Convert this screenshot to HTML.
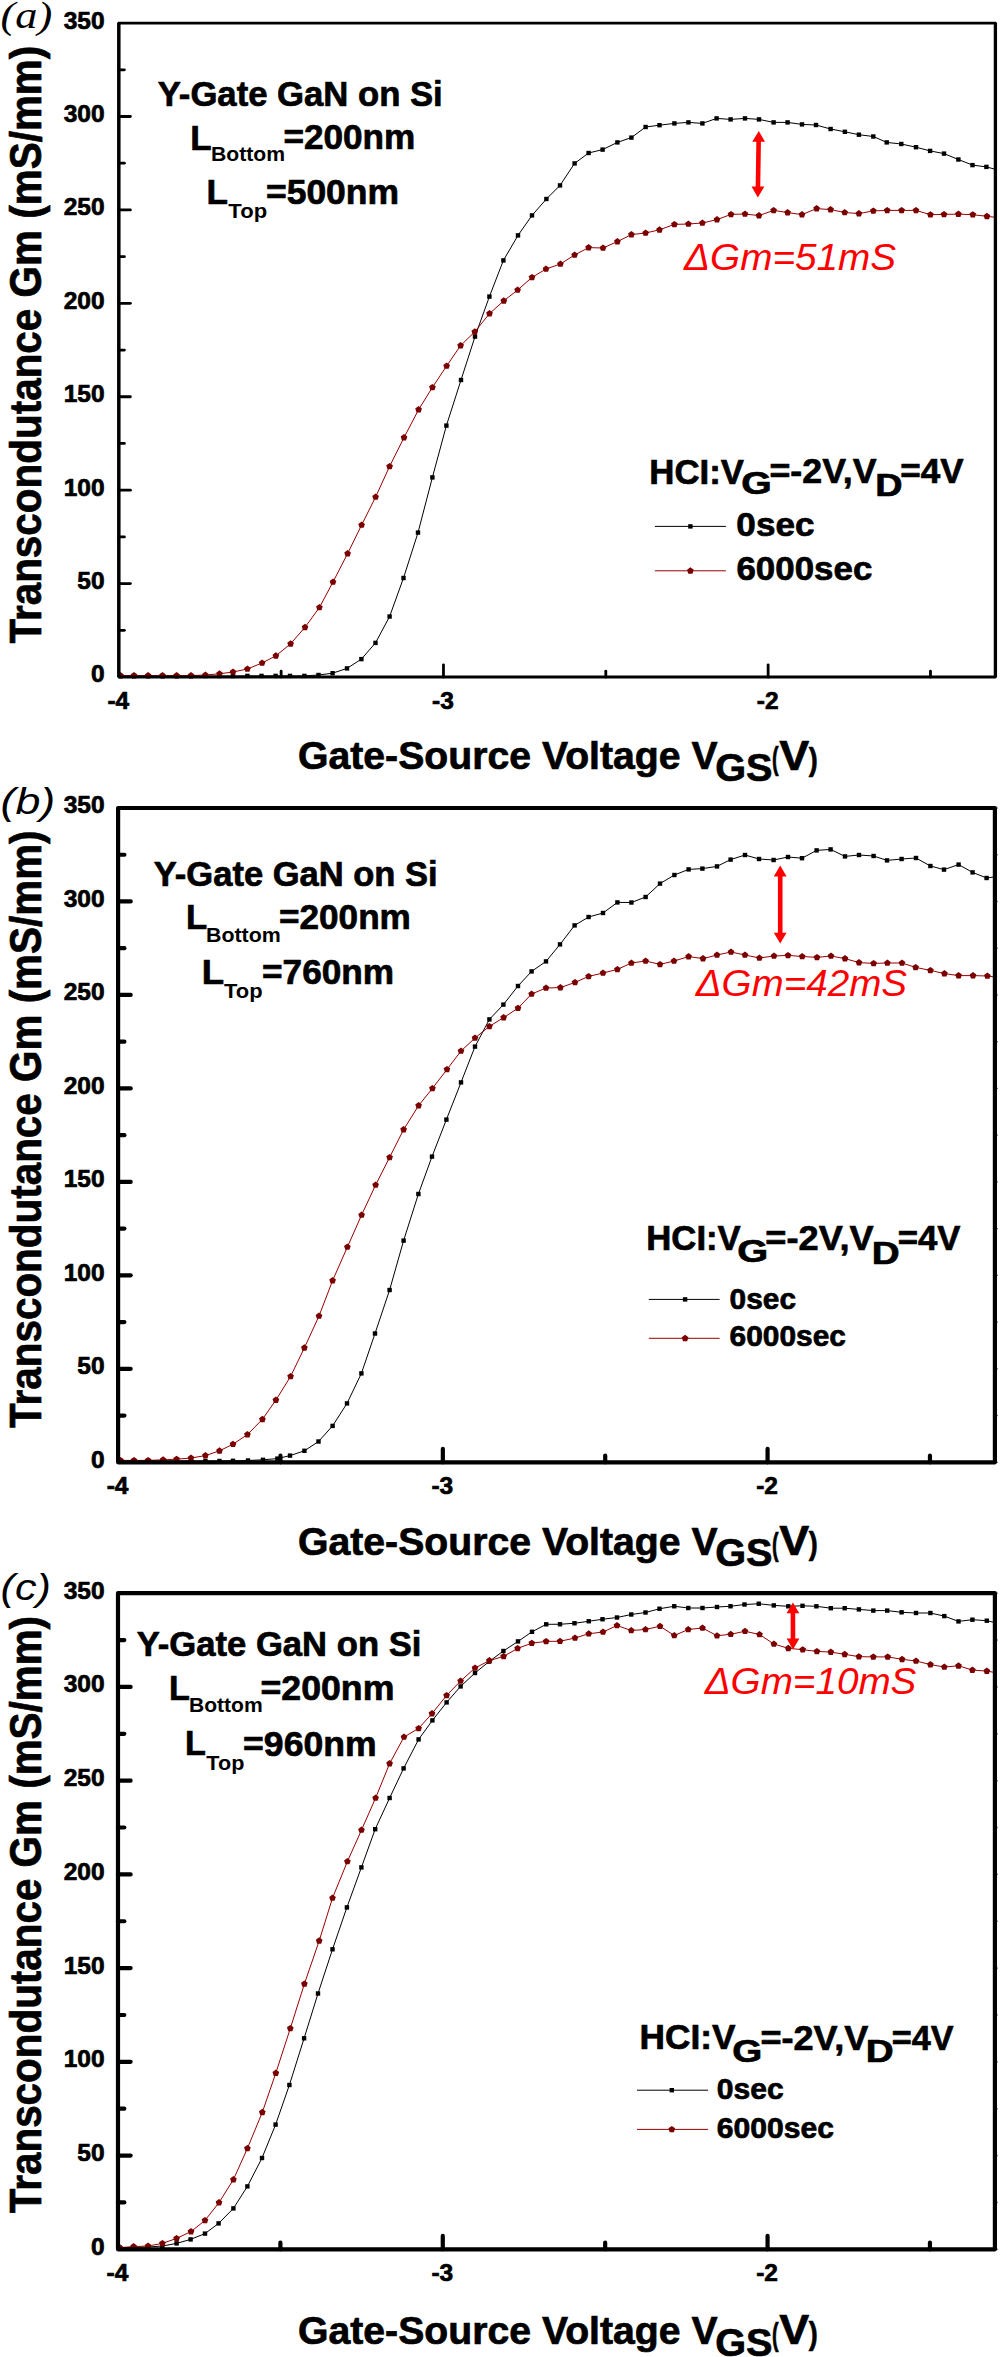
<!DOCTYPE html>
<html><head><meta charset="utf-8"><title>Transconductance HCI stress</title>
<style>html,body{margin:0;padding:0;background:#fff;}svg{display:block;}</style></head><body>
<svg width="1000" height="2357" viewBox="0 0 1000 2357">
<rect width="1000" height="2357" fill="#fff"/>
<clipPath id="clipa"><rect x="118.8" y="17.1" width="876.6" height="665.9"/></clipPath>
<g clip-path="url(#clipa)"><polyline fill="none" stroke="#000" stroke-width="1.0" stroke-linejoin="round" points="120.5,676 134,676 148.1,676 162.5,676 176.6,676 191,676 205.4,676 219.5,676 233,676 247.4,675.9 261.5,675.9 275.6,675.9 290,675.9 304.4,675.9 318.5,675 332.6,673.2 347,668.4 361.4,659.1 375.5,642.9 389.6,616.5 403.5,578 418,532.6 432.4,477.4 446.4,425.6 461,380 475,336.6 489.4,296.6 503.4,260.4 518,235.4 532,215.4 546.4,199 560,185.4 574.6,163.4 588.6,153 602.6,149.6 617.4,142.4 631.4,137.6 645.6,127 659.5,125.2 674.4,123.4 688.4,122.4 702.4,123.4 716.6,118.4 730.6,119.4 745,118.4 759,119.4 773.6,122.4 787.6,122.4 802,124.4 816,125 830.6,129 844.9,131.8 858.9,134.7 873.3,136.5 886.7,142.4 901.3,144 916,147.2 930.1,150.9 944,153.6 958.4,159.5 972.5,165.1 986.4,166.9 1000.6,170.7"/><g fill="#000"><rect x="118.3" y="673.8" width="4.4" height="4.4"/><rect x="131.8" y="673.8" width="4.4" height="4.4"/><rect x="145.9" y="673.8" width="4.4" height="4.4"/><rect x="160.3" y="673.8" width="4.4" height="4.4"/><rect x="174.4" y="673.8" width="4.4" height="4.4"/><rect x="188.8" y="673.8" width="4.4" height="4.4"/><rect x="203.2" y="673.8" width="4.4" height="4.4"/><rect x="217.3" y="673.8" width="4.4" height="4.4"/><rect x="230.8" y="673.8" width="4.4" height="4.4"/><rect x="245.2" y="673.7" width="4.4" height="4.4"/><rect x="259.3" y="673.7" width="4.4" height="4.4"/><rect x="273.4" y="673.7" width="4.4" height="4.4"/><rect x="287.8" y="673.7" width="4.4" height="4.4"/><rect x="302.2" y="673.7" width="4.4" height="4.4"/><rect x="316.3" y="672.8" width="4.4" height="4.4"/><rect x="330.4" y="671" width="4.4" height="4.4"/><rect x="344.8" y="666.2" width="4.4" height="4.4"/><rect x="359.2" y="656.9" width="4.4" height="4.4"/><rect x="373.3" y="640.7" width="4.4" height="4.4"/><rect x="387.4" y="614.3" width="4.4" height="4.4"/><rect x="401.3" y="575.8" width="4.4" height="4.4"/><rect x="415.8" y="530.4" width="4.4" height="4.4"/><rect x="430.2" y="475.2" width="4.4" height="4.4"/><rect x="444.2" y="423.4" width="4.4" height="4.4"/><rect x="458.8" y="377.8" width="4.4" height="4.4"/><rect x="472.8" y="334.4" width="4.4" height="4.4"/><rect x="487.2" y="294.4" width="4.4" height="4.4"/><rect x="501.2" y="258.2" width="4.4" height="4.4"/><rect x="515.8" y="233.2" width="4.4" height="4.4"/><rect x="529.8" y="213.2" width="4.4" height="4.4"/><rect x="544.2" y="196.8" width="4.4" height="4.4"/><rect x="557.8" y="183.2" width="4.4" height="4.4"/><rect x="572.4" y="161.2" width="4.4" height="4.4"/><rect x="586.4" y="150.8" width="4.4" height="4.4"/><rect x="600.4" y="147.4" width="4.4" height="4.4"/><rect x="615.2" y="140.2" width="4.4" height="4.4"/><rect x="629.2" y="135.4" width="4.4" height="4.4"/><rect x="643.4" y="124.8" width="4.4" height="4.4"/><rect x="657.3" y="123" width="4.4" height="4.4"/><rect x="672.2" y="121.2" width="4.4" height="4.4"/><rect x="686.2" y="120.2" width="4.4" height="4.4"/><rect x="700.2" y="121.2" width="4.4" height="4.4"/><rect x="714.4" y="116.2" width="4.4" height="4.4"/><rect x="728.4" y="117.2" width="4.4" height="4.4"/><rect x="742.8" y="116.2" width="4.4" height="4.4"/><rect x="756.8" y="117.2" width="4.4" height="4.4"/><rect x="771.4" y="120.2" width="4.4" height="4.4"/><rect x="785.4" y="120.2" width="4.4" height="4.4"/><rect x="799.8" y="122.2" width="4.4" height="4.4"/><rect x="813.8" y="122.8" width="4.4" height="4.4"/><rect x="828.4" y="126.8" width="4.4" height="4.4"/><rect x="842.7" y="129.6" width="4.4" height="4.4"/><rect x="856.7" y="132.5" width="4.4" height="4.4"/><rect x="871.1" y="134.3" width="4.4" height="4.4"/><rect x="884.5" y="140.2" width="4.4" height="4.4"/><rect x="899.1" y="141.8" width="4.4" height="4.4"/><rect x="913.8" y="145" width="4.4" height="4.4"/><rect x="927.9" y="148.7" width="4.4" height="4.4"/><rect x="941.8" y="151.4" width="4.4" height="4.4"/><rect x="956.2" y="157.3" width="4.4" height="4.4"/><rect x="970.3" y="162.9" width="4.4" height="4.4"/><rect x="984.2" y="164.7" width="4.4" height="4.4"/><rect x="998.4" y="168.5" width="4.4" height="4.4"/></g><polyline fill="none" stroke="#990000" stroke-width="1.0" stroke-linejoin="round" points="120.5,675.6 134,675.6 148.1,675.6 162.5,675.6 176.6,675.6 191,675.6 205.4,675 219.5,673.8 233,672 247.4,669 262.1,663 275.9,655.8 290.6,643.8 305,627.3 319.4,607.5 333,582 347.6,553.6 361.6,525 375.6,497 389.6,466.4 404,437.6 418.6,409.6 432.4,387.4 446.6,366 460.6,345.6 474.8,331.8 489.5,313.6 503.8,300.8 517.6,290 532,277.4 546,269 560.4,264 574.6,255 588.6,247.6 603,248 617.4,241.6 631.4,234.6 645.6,233 659.5,229.8 674.4,224.4 688.4,224 702.4,223 717,219.6 731,214.4 745,214 759,215.6 773.6,210.4 787.6,212.6 802,214.6 816.6,208.6 830.6,209.6 844.7,212.5 858.9,213.6 873.3,210.9 887.2,210.4 901.6,210.4 916,210.4 930.4,214.7 944,214.4 958.4,214.1 972.8,214.7 986.9,216.3 1001,218"/><g fill="#7a0000"><polygon points="120.5,672.1 123.83,674.52 122.56,678.43 118.44,678.43 117.17,674.52"/><polygon points="134,672.1 137.33,674.52 136.06,678.43 131.94,678.43 130.67,674.52"/><polygon points="148.1,672.1 151.43,674.52 150.16,678.43 146.04,678.43 144.77,674.52"/><polygon points="162.5,672.1 165.83,674.52 164.56,678.43 160.44,678.43 159.17,674.52"/><polygon points="176.6,672.1 179.93,674.52 178.66,678.43 174.54,678.43 173.27,674.52"/><polygon points="191,672.1 194.33,674.52 193.06,678.43 188.94,678.43 187.67,674.52"/><polygon points="205.4,671.5 208.73,673.92 207.46,677.83 203.34,677.83 202.07,673.92"/><polygon points="219.5,670.3 222.83,672.72 221.56,676.63 217.44,676.63 216.17,672.72"/><polygon points="233,668.5 236.33,670.92 235.06,674.83 230.94,674.83 229.67,670.92"/><polygon points="247.4,665.5 250.73,667.92 249.46,671.83 245.34,671.83 244.07,667.92"/><polygon points="262.1,659.5 265.43,661.92 264.16,665.83 260.04,665.83 258.77,661.92"/><polygon points="275.9,652.3 279.23,654.72 277.96,658.63 273.84,658.63 272.57,654.72"/><polygon points="290.6,640.3 293.93,642.72 292.66,646.63 288.54,646.63 287.27,642.72"/><polygon points="305,623.8 308.33,626.22 307.06,630.13 302.94,630.13 301.67,626.22"/><polygon points="319.4,604 322.73,606.42 321.46,610.33 317.34,610.33 316.07,606.42"/><polygon points="333,578.5 336.33,580.92 335.06,584.83 330.94,584.83 329.67,580.92"/><polygon points="347.6,550.1 350.93,552.52 349.66,556.43 345.54,556.43 344.27,552.52"/><polygon points="361.6,521.5 364.93,523.92 363.66,527.83 359.54,527.83 358.27,523.92"/><polygon points="375.6,493.5 378.93,495.92 377.66,499.83 373.54,499.83 372.27,495.92"/><polygon points="389.6,462.9 392.93,465.32 391.66,469.23 387.54,469.23 386.27,465.32"/><polygon points="404,434.1 407.33,436.52 406.06,440.43 401.94,440.43 400.67,436.52"/><polygon points="418.6,406.1 421.93,408.52 420.66,412.43 416.54,412.43 415.27,408.52"/><polygon points="432.4,383.9 435.73,386.32 434.46,390.23 430.34,390.23 429.07,386.32"/><polygon points="446.6,362.5 449.93,364.92 448.66,368.83 444.54,368.83 443.27,364.92"/><polygon points="460.6,342.1 463.93,344.52 462.66,348.43 458.54,348.43 457.27,344.52"/><polygon points="474.8,328.3 478.13,330.72 476.86,334.63 472.74,334.63 471.47,330.72"/><polygon points="489.5,310.1 492.83,312.52 491.56,316.43 487.44,316.43 486.17,312.52"/><polygon points="503.8,297.3 507.13,299.72 505.86,303.63 501.74,303.63 500.47,299.72"/><polygon points="517.6,286.5 520.93,288.92 519.66,292.83 515.54,292.83 514.27,288.92"/><polygon points="532,273.9 535.33,276.32 534.06,280.23 529.94,280.23 528.67,276.32"/><polygon points="546,265.5 549.33,267.92 548.06,271.83 543.94,271.83 542.67,267.92"/><polygon points="560.4,260.5 563.73,262.92 562.46,266.83 558.34,266.83 557.07,262.92"/><polygon points="574.6,251.5 577.93,253.92 576.66,257.83 572.54,257.83 571.27,253.92"/><polygon points="588.6,244.1 591.93,246.52 590.66,250.43 586.54,250.43 585.27,246.52"/><polygon points="603,244.5 606.33,246.92 605.06,250.83 600.94,250.83 599.67,246.92"/><polygon points="617.4,238.1 620.73,240.52 619.46,244.43 615.34,244.43 614.07,240.52"/><polygon points="631.4,231.1 634.73,233.52 633.46,237.43 629.34,237.43 628.07,233.52"/><polygon points="645.6,229.5 648.93,231.92 647.66,235.83 643.54,235.83 642.27,231.92"/><polygon points="659.5,226.3 662.83,228.72 661.56,232.63 657.44,232.63 656.17,228.72"/><polygon points="674.4,220.9 677.73,223.32 676.46,227.23 672.34,227.23 671.07,223.32"/><polygon points="688.4,220.5 691.73,222.92 690.46,226.83 686.34,226.83 685.07,222.92"/><polygon points="702.4,219.5 705.73,221.92 704.46,225.83 700.34,225.83 699.07,221.92"/><polygon points="717,216.1 720.33,218.52 719.06,222.43 714.94,222.43 713.67,218.52"/><polygon points="731,210.9 734.33,213.32 733.06,217.23 728.94,217.23 727.67,213.32"/><polygon points="745,210.5 748.33,212.92 747.06,216.83 742.94,216.83 741.67,212.92"/><polygon points="759,212.1 762.33,214.52 761.06,218.43 756.94,218.43 755.67,214.52"/><polygon points="773.6,206.9 776.93,209.32 775.66,213.23 771.54,213.23 770.27,209.32"/><polygon points="787.6,209.1 790.93,211.52 789.66,215.43 785.54,215.43 784.27,211.52"/><polygon points="802,211.1 805.33,213.52 804.06,217.43 799.94,217.43 798.67,213.52"/><polygon points="816.6,205.1 819.93,207.52 818.66,211.43 814.54,211.43 813.27,207.52"/><polygon points="830.6,206.1 833.93,208.52 832.66,212.43 828.54,212.43 827.27,208.52"/><polygon points="844.7,209 848.03,211.42 846.76,215.33 842.64,215.33 841.37,211.42"/><polygon points="858.9,210.1 862.23,212.52 860.96,216.43 856.84,216.43 855.57,212.52"/><polygon points="873.3,207.4 876.63,209.82 875.36,213.73 871.24,213.73 869.97,209.82"/><polygon points="887.2,206.9 890.53,209.32 889.26,213.23 885.14,213.23 883.87,209.32"/><polygon points="901.6,206.9 904.93,209.32 903.66,213.23 899.54,213.23 898.27,209.32"/><polygon points="916,206.9 919.33,209.32 918.06,213.23 913.94,213.23 912.67,209.32"/><polygon points="930.4,211.2 933.73,213.62 932.46,217.53 928.34,217.53 927.07,213.62"/><polygon points="944,210.9 947.33,213.32 946.06,217.23 941.94,217.23 940.67,213.32"/><polygon points="958.4,210.6 961.73,213.02 960.46,216.93 956.34,216.93 955.07,213.02"/><polygon points="972.8,211.2 976.13,213.62 974.86,217.53 970.74,217.53 969.47,213.62"/><polygon points="986.9,212.8 990.23,215.22 988.96,219.13 984.84,219.13 983.57,215.22"/><polygon points="1001,214.5 1004.33,216.92 1003.06,220.83 998.94,220.83 997.67,216.92"/></g></g>
<g stroke="#000" stroke-width="2.8" stroke-linecap="round"><line x1="118.8" y1="630.29" x2="124.4" y2="630.29"/><line x1="118.8" y1="583.59" x2="130.4" y2="583.59"/><line x1="118.8" y1="536.88" x2="124.4" y2="536.88"/><line x1="118.8" y1="490.17" x2="130.4" y2="490.17"/><line x1="118.8" y1="443.46" x2="124.4" y2="443.46"/><line x1="118.8" y1="396.76" x2="130.4" y2="396.76"/><line x1="118.8" y1="350.05" x2="124.4" y2="350.05"/><line x1="118.8" y1="303.34" x2="130.4" y2="303.34"/><line x1="118.8" y1="256.64" x2="124.4" y2="256.64"/><line x1="118.8" y1="209.93" x2="130.4" y2="209.93"/><line x1="118.8" y1="163.22" x2="124.4" y2="163.22"/><line x1="118.8" y1="116.51" x2="130.4" y2="116.51"/><line x1="118.8" y1="69.81" x2="124.4" y2="69.81"/><line x1="281.13" y1="677" x2="281.13" y2="671.2"/><line x1="443.47" y1="677" x2="443.47" y2="664.8"/><line x1="605.8" y1="677" x2="605.8" y2="671.2"/><line x1="768.13" y1="677" x2="768.13" y2="664.8"/><line x1="930.47" y1="677" x2="930.47" y2="671.2"/></g>
<rect x="118.8" y="23.1" width="876.6" height="653.9" fill="none" stroke="#000" stroke-width="2.8" stroke-linejoin="round"/>
<g stroke="#000" stroke-width="3.3"><line x1="118.8" y1="23.1" x2="118.8" y2="677"/><line x1="995.4" y1="23.1" x2="995.4" y2="677"/></g>
<g font-family="'Liberation Sans', Arial, sans-serif" font-size="24.5" font-weight="bold" fill="#000" stroke="#000" stroke-width="0.7" stroke-linejoin="round"><text x="104.6" y="682.4" text-anchor="end">0</text><text x="104.6" y="588.99" text-anchor="end">50</text><text x="104.6" y="495.57" text-anchor="end">100</text><text x="104.6" y="402.16" text-anchor="end">150</text><text x="104.6" y="308.74" text-anchor="end">200</text><text x="104.6" y="215.33" text-anchor="end">250</text><text x="104.6" y="121.91" text-anchor="end">300</text><text x="104.6" y="28.5" text-anchor="end">350</text><text x="118.3" y="708.5" text-anchor="middle">-4</text><text x="442.97" y="708.5" text-anchor="middle">-3</text><text x="767.63" y="708.5" text-anchor="middle">-2</text></g>
<polygon fill="#ff0000" points="758.8,131 765.04,141.8 760.94,141.8 760.26,186.6 764.36,186.6 757.8,197.4 751.56,186.6 755.66,186.6 756.34,141.8 752.24,141.8"/>
<line x1="654.9" y1="526.4" x2="725.9" y2="526.4" stroke="#000" stroke-width="1.0"/>
<rect x="688.2" y="524.2" width="4.4" height="4.4" fill="#000"/>
<line x1="654.9" y1="570.8" x2="725.9" y2="570.8" stroke="#990000" stroke-width="1.0"/>
<polygon points="690.4,567.3 693.73,569.72 692.46,573.63 688.34,573.63 687.07,569.72" fill="#7a0000"/>
<clipPath id="clipb"><rect x="118.1" y="802" width="876.8" height="666.3"/></clipPath>
<g clip-path="url(#clipb)"><polyline fill="none" stroke="#000" stroke-width="1.0" stroke-linejoin="round" points="120.5,1461 134,1461 148.1,1461 162.5,1461 176.6,1461 191,1461 205.4,1461 219.5,1461 233,1460.8 248,1460.5 263,1459.8 277.4,1458.6 290,1455.6 304.4,1450.8 318.5,1441.5 332.6,1425.9 347,1403.4 361.4,1373.4 375,1333.5 389.6,1290 403.6,1240.6 418.4,1194 432,1156.6 446.4,1119.6 461,1082.4 475,1046.6 489.4,1019.4 503.4,1004.6 518,986 531.6,971.4 546,961.4 560,944.4 574.6,925.4 588.6,917 603,913 617.4,902.4 631.4,902.5 645.6,897 660,883.6 674.4,875 688.6,869.4 702.4,868.6 717,866.4 730.6,859.6 745,855 759,859 773.6,860 788,857 802,858.2 816.6,850.4 830.6,849.4 845,856.4 859,855 873.6,856 887,860.4 901.6,859 916,858 930.4,866 944,869.6 958.6,864.6 972.6,872.4 986.6,878 1000.8,876"/><g fill="#000"><rect x="118.3" y="1458.8" width="4.4" height="4.4"/><rect x="131.8" y="1458.8" width="4.4" height="4.4"/><rect x="145.9" y="1458.8" width="4.4" height="4.4"/><rect x="160.3" y="1458.8" width="4.4" height="4.4"/><rect x="174.4" y="1458.8" width="4.4" height="4.4"/><rect x="188.8" y="1458.8" width="4.4" height="4.4"/><rect x="203.2" y="1458.8" width="4.4" height="4.4"/><rect x="217.3" y="1458.8" width="4.4" height="4.4"/><rect x="230.8" y="1458.6" width="4.4" height="4.4"/><rect x="245.8" y="1458.3" width="4.4" height="4.4"/><rect x="260.8" y="1457.6" width="4.4" height="4.4"/><rect x="275.2" y="1456.4" width="4.4" height="4.4"/><rect x="287.8" y="1453.4" width="4.4" height="4.4"/><rect x="302.2" y="1448.6" width="4.4" height="4.4"/><rect x="316.3" y="1439.3" width="4.4" height="4.4"/><rect x="330.4" y="1423.7" width="4.4" height="4.4"/><rect x="344.8" y="1401.2" width="4.4" height="4.4"/><rect x="359.2" y="1371.2" width="4.4" height="4.4"/><rect x="372.8" y="1331.3" width="4.4" height="4.4"/><rect x="387.4" y="1287.8" width="4.4" height="4.4"/><rect x="401.4" y="1238.4" width="4.4" height="4.4"/><rect x="416.2" y="1191.8" width="4.4" height="4.4"/><rect x="429.8" y="1154.4" width="4.4" height="4.4"/><rect x="444.2" y="1117.4" width="4.4" height="4.4"/><rect x="458.8" y="1080.2" width="4.4" height="4.4"/><rect x="472.8" y="1044.4" width="4.4" height="4.4"/><rect x="487.2" y="1017.2" width="4.4" height="4.4"/><rect x="501.2" y="1002.4" width="4.4" height="4.4"/><rect x="515.8" y="983.8" width="4.4" height="4.4"/><rect x="529.4" y="969.2" width="4.4" height="4.4"/><rect x="543.8" y="959.2" width="4.4" height="4.4"/><rect x="557.8" y="942.2" width="4.4" height="4.4"/><rect x="572.4" y="923.2" width="4.4" height="4.4"/><rect x="586.4" y="914.8" width="4.4" height="4.4"/><rect x="600.8" y="910.8" width="4.4" height="4.4"/><rect x="615.2" y="900.2" width="4.4" height="4.4"/><rect x="629.2" y="900.3" width="4.4" height="4.4"/><rect x="643.4" y="894.8" width="4.4" height="4.4"/><rect x="657.8" y="881.4" width="4.4" height="4.4"/><rect x="672.2" y="872.8" width="4.4" height="4.4"/><rect x="686.4" y="867.2" width="4.4" height="4.4"/><rect x="700.2" y="866.4" width="4.4" height="4.4"/><rect x="714.8" y="864.2" width="4.4" height="4.4"/><rect x="728.4" y="857.4" width="4.4" height="4.4"/><rect x="742.8" y="852.8" width="4.4" height="4.4"/><rect x="756.8" y="856.8" width="4.4" height="4.4"/><rect x="771.4" y="857.8" width="4.4" height="4.4"/><rect x="785.8" y="854.8" width="4.4" height="4.4"/><rect x="799.8" y="856" width="4.4" height="4.4"/><rect x="814.4" y="848.2" width="4.4" height="4.4"/><rect x="828.4" y="847.2" width="4.4" height="4.4"/><rect x="842.8" y="854.2" width="4.4" height="4.4"/><rect x="856.8" y="852.8" width="4.4" height="4.4"/><rect x="871.4" y="853.8" width="4.4" height="4.4"/><rect x="884.8" y="858.2" width="4.4" height="4.4"/><rect x="899.4" y="856.8" width="4.4" height="4.4"/><rect x="913.8" y="855.8" width="4.4" height="4.4"/><rect x="928.2" y="863.8" width="4.4" height="4.4"/><rect x="941.8" y="867.4" width="4.4" height="4.4"/><rect x="956.4" y="862.4" width="4.4" height="4.4"/><rect x="970.4" y="870.2" width="4.4" height="4.4"/><rect x="984.4" y="875.8" width="4.4" height="4.4"/><rect x="998.6" y="873.8" width="4.4" height="4.4"/></g><polyline fill="none" stroke="#990000" stroke-width="1.0" stroke-linejoin="round" points="120.5,1460.4 134,1460.4 148.1,1460.4 163.1,1459.8 176.6,1459.2 191,1458 205.4,1455.6 219.5,1450.8 233,1444.2 247.4,1434.6 262.4,1419.3 275.9,1400.1 290.6,1376.4 304.4,1347.8 319,1316 332.6,1280.6 347.4,1247 361.6,1215 375.6,1185 389.6,1157.4 403.6,1129.6 418.6,1105.6 432.4,1088.4 447,1069.4 461,1051 475,1038 489.4,1026.4 503.6,1017.6 518,1008.2 531.6,994 546,988 560.4,987.6 575,982.4 588.6,976.4 603,973 617.4,969.4 631.4,963 645.6,961 660,964.4 674,961 688.6,956.6 703,958.6 717,955 731,952 745,955 759.4,958 774,956 788,955.4 802.2,956.5 817,957.4 831,956 845,958.6 859,962.6 873.6,963.4 887.4,963 902,963 915.6,967.4 930.4,970.4 944.4,973.6 958.6,975.6 973,975.6 987.4,976 1001.5,978"/><g fill="#7a0000"><polygon points="120.5,1456.9 123.83,1459.32 122.56,1463.23 118.44,1463.23 117.17,1459.32"/><polygon points="134,1456.9 137.33,1459.32 136.06,1463.23 131.94,1463.23 130.67,1459.32"/><polygon points="148.1,1456.9 151.43,1459.32 150.16,1463.23 146.04,1463.23 144.77,1459.32"/><polygon points="163.1,1456.3 166.43,1458.72 165.16,1462.63 161.04,1462.63 159.77,1458.72"/><polygon points="176.6,1455.7 179.93,1458.12 178.66,1462.03 174.54,1462.03 173.27,1458.12"/><polygon points="191,1454.5 194.33,1456.92 193.06,1460.83 188.94,1460.83 187.67,1456.92"/><polygon points="205.4,1452.1 208.73,1454.52 207.46,1458.43 203.34,1458.43 202.07,1454.52"/><polygon points="219.5,1447.3 222.83,1449.72 221.56,1453.63 217.44,1453.63 216.17,1449.72"/><polygon points="233,1440.7 236.33,1443.12 235.06,1447.03 230.94,1447.03 229.67,1443.12"/><polygon points="247.4,1431.1 250.73,1433.52 249.46,1437.43 245.34,1437.43 244.07,1433.52"/><polygon points="262.4,1415.8 265.73,1418.22 264.46,1422.13 260.34,1422.13 259.07,1418.22"/><polygon points="275.9,1396.6 279.23,1399.02 277.96,1402.93 273.84,1402.93 272.57,1399.02"/><polygon points="290.6,1372.9 293.93,1375.32 292.66,1379.23 288.54,1379.23 287.27,1375.32"/><polygon points="304.4,1344.3 307.73,1346.72 306.46,1350.63 302.34,1350.63 301.07,1346.72"/><polygon points="319,1312.5 322.33,1314.92 321.06,1318.83 316.94,1318.83 315.67,1314.92"/><polygon points="332.6,1277.1 335.93,1279.52 334.66,1283.43 330.54,1283.43 329.27,1279.52"/><polygon points="347.4,1243.5 350.73,1245.92 349.46,1249.83 345.34,1249.83 344.07,1245.92"/><polygon points="361.6,1211.5 364.93,1213.92 363.66,1217.83 359.54,1217.83 358.27,1213.92"/><polygon points="375.6,1181.5 378.93,1183.92 377.66,1187.83 373.54,1187.83 372.27,1183.92"/><polygon points="389.6,1153.9 392.93,1156.32 391.66,1160.23 387.54,1160.23 386.27,1156.32"/><polygon points="403.6,1126.1 406.93,1128.52 405.66,1132.43 401.54,1132.43 400.27,1128.52"/><polygon points="418.6,1102.1 421.93,1104.52 420.66,1108.43 416.54,1108.43 415.27,1104.52"/><polygon points="432.4,1084.9 435.73,1087.32 434.46,1091.23 430.34,1091.23 429.07,1087.32"/><polygon points="447,1065.9 450.33,1068.32 449.06,1072.23 444.94,1072.23 443.67,1068.32"/><polygon points="461,1047.5 464.33,1049.92 463.06,1053.83 458.94,1053.83 457.67,1049.92"/><polygon points="475,1034.5 478.33,1036.92 477.06,1040.83 472.94,1040.83 471.67,1036.92"/><polygon points="489.4,1022.9 492.73,1025.32 491.46,1029.23 487.34,1029.23 486.07,1025.32"/><polygon points="503.6,1014.1 506.93,1016.52 505.66,1020.43 501.54,1020.43 500.27,1016.52"/><polygon points="518,1004.7 521.33,1007.12 520.06,1011.03 515.94,1011.03 514.67,1007.12"/><polygon points="531.6,990.5 534.93,992.92 533.66,996.83 529.54,996.83 528.27,992.92"/><polygon points="546,984.5 549.33,986.92 548.06,990.83 543.94,990.83 542.67,986.92"/><polygon points="560.4,984.1 563.73,986.52 562.46,990.43 558.34,990.43 557.07,986.52"/><polygon points="575,978.9 578.33,981.32 577.06,985.23 572.94,985.23 571.67,981.32"/><polygon points="588.6,972.9 591.93,975.32 590.66,979.23 586.54,979.23 585.27,975.32"/><polygon points="603,969.5 606.33,971.92 605.06,975.83 600.94,975.83 599.67,971.92"/><polygon points="617.4,965.9 620.73,968.32 619.46,972.23 615.34,972.23 614.07,968.32"/><polygon points="631.4,959.5 634.73,961.92 633.46,965.83 629.34,965.83 628.07,961.92"/><polygon points="645.6,957.5 648.93,959.92 647.66,963.83 643.54,963.83 642.27,959.92"/><polygon points="660,960.9 663.33,963.32 662.06,967.23 657.94,967.23 656.67,963.32"/><polygon points="674,957.5 677.33,959.92 676.06,963.83 671.94,963.83 670.67,959.92"/><polygon points="688.6,953.1 691.93,955.52 690.66,959.43 686.54,959.43 685.27,955.52"/><polygon points="703,955.1 706.33,957.52 705.06,961.43 700.94,961.43 699.67,957.52"/><polygon points="717,951.5 720.33,953.92 719.06,957.83 714.94,957.83 713.67,953.92"/><polygon points="731,948.5 734.33,950.92 733.06,954.83 728.94,954.83 727.67,950.92"/><polygon points="745,951.5 748.33,953.92 747.06,957.83 742.94,957.83 741.67,953.92"/><polygon points="759.4,954.5 762.73,956.92 761.46,960.83 757.34,960.83 756.07,956.92"/><polygon points="774,952.5 777.33,954.92 776.06,958.83 771.94,958.83 770.67,954.92"/><polygon points="788,951.9 791.33,954.32 790.06,958.23 785.94,958.23 784.67,954.32"/><polygon points="802.2,953 805.53,955.42 804.26,959.33 800.14,959.33 798.87,955.42"/><polygon points="817,953.9 820.33,956.32 819.06,960.23 814.94,960.23 813.67,956.32"/><polygon points="831,952.5 834.33,954.92 833.06,958.83 828.94,958.83 827.67,954.92"/><polygon points="845,955.1 848.33,957.52 847.06,961.43 842.94,961.43 841.67,957.52"/><polygon points="859,959.1 862.33,961.52 861.06,965.43 856.94,965.43 855.67,961.52"/><polygon points="873.6,959.9 876.93,962.32 875.66,966.23 871.54,966.23 870.27,962.32"/><polygon points="887.4,959.5 890.73,961.92 889.46,965.83 885.34,965.83 884.07,961.92"/><polygon points="902,959.5 905.33,961.92 904.06,965.83 899.94,965.83 898.67,961.92"/><polygon points="915.6,963.9 918.93,966.32 917.66,970.23 913.54,970.23 912.27,966.32"/><polygon points="930.4,966.9 933.73,969.32 932.46,973.23 928.34,973.23 927.07,969.32"/><polygon points="944.4,970.1 947.73,972.52 946.46,976.43 942.34,976.43 941.07,972.52"/><polygon points="958.6,972.1 961.93,974.52 960.66,978.43 956.54,978.43 955.27,974.52"/><polygon points="973,972.1 976.33,974.52 975.06,978.43 970.94,978.43 969.67,974.52"/><polygon points="987.4,972.5 990.73,974.92 989.46,978.83 985.34,978.83 984.07,974.92"/><polygon points="1001.5,974.5 1004.83,976.92 1003.56,980.83 999.44,980.83 998.17,976.92"/></g></g>
<g stroke="#000" stroke-width="4.2" stroke-linecap="round"><line x1="994.9" y1="1462.3" x2="997.5" y2="1462.3" stroke-width="1.3" stroke-linecap="butt"/><line x1="118.1" y1="1415.56" x2="124.4" y2="1415.56"/><line x1="994.9" y1="1415.56" x2="997.5" y2="1415.56" stroke-width="1.3" stroke-linecap="butt"/><line x1="118.1" y1="1368.83" x2="130.7" y2="1368.83"/><line x1="994.9" y1="1368.83" x2="997.5" y2="1368.83" stroke-width="1.3" stroke-linecap="butt"/><line x1="118.1" y1="1322.09" x2="124.4" y2="1322.09"/><line x1="994.9" y1="1322.09" x2="997.5" y2="1322.09" stroke-width="1.3" stroke-linecap="butt"/><line x1="118.1" y1="1275.36" x2="130.7" y2="1275.36"/><line x1="994.9" y1="1275.36" x2="997.5" y2="1275.36" stroke-width="1.3" stroke-linecap="butt"/><line x1="118.1" y1="1228.62" x2="124.4" y2="1228.62"/><line x1="994.9" y1="1228.62" x2="997.5" y2="1228.62" stroke-width="1.3" stroke-linecap="butt"/><line x1="118.1" y1="1181.89" x2="130.7" y2="1181.89"/><line x1="994.9" y1="1181.89" x2="997.5" y2="1181.89" stroke-width="1.3" stroke-linecap="butt"/><line x1="118.1" y1="1135.15" x2="124.4" y2="1135.15"/><line x1="994.9" y1="1135.15" x2="997.5" y2="1135.15" stroke-width="1.3" stroke-linecap="butt"/><line x1="118.1" y1="1088.41" x2="130.7" y2="1088.41"/><line x1="994.9" y1="1088.41" x2="997.5" y2="1088.41" stroke-width="1.3" stroke-linecap="butt"/><line x1="118.1" y1="1041.68" x2="124.4" y2="1041.68"/><line x1="994.9" y1="1041.68" x2="997.5" y2="1041.68" stroke-width="1.3" stroke-linecap="butt"/><line x1="118.1" y1="994.94" x2="130.7" y2="994.94"/><line x1="994.9" y1="994.94" x2="997.5" y2="994.94" stroke-width="1.3" stroke-linecap="butt"/><line x1="118.1" y1="948.21" x2="124.4" y2="948.21"/><line x1="994.9" y1="948.21" x2="997.5" y2="948.21" stroke-width="1.3" stroke-linecap="butt"/><line x1="118.1" y1="901.47" x2="130.7" y2="901.47"/><line x1="994.9" y1="901.47" x2="997.5" y2="901.47" stroke-width="1.3" stroke-linecap="butt"/><line x1="118.1" y1="854.74" x2="124.4" y2="854.74"/><line x1="994.9" y1="854.74" x2="997.5" y2="854.74" stroke-width="1.3" stroke-linecap="butt"/><line x1="994.9" y1="808" x2="997.5" y2="808" stroke-width="1.3" stroke-linecap="butt"/><line x1="280.47" y1="1462.3" x2="280.47" y2="1455.7"/><line x1="442.84" y1="1462.3" x2="442.84" y2="1448.9"/><line x1="605.21" y1="1462.3" x2="605.21" y2="1455.7"/><line x1="767.58" y1="1462.3" x2="767.58" y2="1448.9"/><line x1="929.95" y1="1462.3" x2="929.95" y2="1455.7"/></g>
<rect x="118.1" y="808" width="876.8" height="654.3" fill="none" stroke="#000" stroke-width="4.2" stroke-linejoin="round"/>
<g font-family="'Liberation Sans', Arial, sans-serif" font-size="24.5" font-weight="bold" fill="#000" stroke="#000" stroke-width="0.7" stroke-linejoin="round"><text x="104.6" y="1467.7" text-anchor="end">0</text><text x="104.6" y="1374.23" text-anchor="end">50</text><text x="104.6" y="1280.76" text-anchor="end">100</text><text x="104.6" y="1187.29" text-anchor="end">150</text><text x="104.6" y="1093.81" text-anchor="end">200</text><text x="104.6" y="1000.34" text-anchor="end">250</text><text x="104.6" y="906.87" text-anchor="end">300</text><text x="104.6" y="813.4" text-anchor="end">350</text><text x="117.6" y="1493.8" text-anchor="middle">-4</text><text x="442.34" y="1493.8" text-anchor="middle">-3</text><text x="767.08" y="1493.8" text-anchor="middle">-2</text></g>
<polygon fill="#ff0000" points="780.2,865.6 786.6,876.4 782.5,876.4 782.5,932.8 786.6,932.8 780.2,943.6 773.8,932.8 777.9,932.8 777.9,876.4 773.8,876.4"/>
<line x1="648.8" y1="1299.4" x2="719.6" y2="1299.4" stroke="#000" stroke-width="1.0"/>
<rect x="682.9" y="1297.2" width="4.4" height="4.4" fill="#000"/>
<line x1="648.8" y1="1338.3" x2="719.6" y2="1338.3" stroke="#990000" stroke-width="1.0"/>
<polygon points="685.1,1334.8 688.43,1337.22 687.16,1341.13 683.04,1341.13 681.77,1337.22" fill="#7a0000"/>
<clipPath id="clipc"><rect x="118" y="1587.2" width="876.9" height="668.1"/></clipPath>
<g clip-path="url(#clipc)"><polyline fill="none" stroke="#000" stroke-width="1.0" stroke-linejoin="round" points="119.6,2247.5 133.6,2247.5 148,2247 162.4,2246 176.6,2243.4 190.6,2239.4 205,2233.6 218.6,2223.4 233.4,2208.4 247.4,2186.4 262,2158 275.6,2124.6 289.4,2085 304.1,2038.3 318,1993.5 332.5,1949.3 346.9,1907.4 361.4,1867.4 375.2,1829.2 389.6,1798 403.6,1768.4 418.6,1739.4 432.4,1720.4 446.6,1702.4 460.6,1686.4 475,1673 489,1661.6 503.4,1651 518,1641.4 532,1631.8 546.2,1624.3 560,1624.25 574.5,1623.25 588.75,1621.25 602.5,1619.25 617,1617.5 631.25,1614.5 645.5,1612.5 659.5,1608.75 674.25,1606.25 688.25,1608 702.5,1608 717,1607 730.5,1606.25 744.5,1604.5 758.75,1603.75 773.8,1605.4 788.3,1606.3 802.5,1605.8 816.4,1606.3 830.8,1608.2 844.7,1608.2 858.9,1609.4 873.3,1610.6 887.2,1610.6 901.6,1612.3 916,1613 930.4,1613 944.3,1616.1 958.5,1621.4 972.4,1619.7 986.8,1620.7 1001,1624"/><g fill="#000"><rect x="117.4" y="2245.3" width="4.4" height="4.4"/><rect x="131.4" y="2245.3" width="4.4" height="4.4"/><rect x="145.8" y="2244.8" width="4.4" height="4.4"/><rect x="160.2" y="2243.8" width="4.4" height="4.4"/><rect x="174.4" y="2241.2" width="4.4" height="4.4"/><rect x="188.4" y="2237.2" width="4.4" height="4.4"/><rect x="202.8" y="2231.4" width="4.4" height="4.4"/><rect x="216.4" y="2221.2" width="4.4" height="4.4"/><rect x="231.2" y="2206.2" width="4.4" height="4.4"/><rect x="245.2" y="2184.2" width="4.4" height="4.4"/><rect x="259.8" y="2155.8" width="4.4" height="4.4"/><rect x="273.4" y="2122.4" width="4.4" height="4.4"/><rect x="287.2" y="2082.8" width="4.4" height="4.4"/><rect x="301.9" y="2036.1" width="4.4" height="4.4"/><rect x="315.8" y="1991.3" width="4.4" height="4.4"/><rect x="330.3" y="1947.1" width="4.4" height="4.4"/><rect x="344.7" y="1905.2" width="4.4" height="4.4"/><rect x="359.2" y="1865.2" width="4.4" height="4.4"/><rect x="373" y="1827" width="4.4" height="4.4"/><rect x="387.4" y="1795.8" width="4.4" height="4.4"/><rect x="401.4" y="1766.2" width="4.4" height="4.4"/><rect x="416.4" y="1737.2" width="4.4" height="4.4"/><rect x="430.2" y="1718.2" width="4.4" height="4.4"/><rect x="444.4" y="1700.2" width="4.4" height="4.4"/><rect x="458.4" y="1684.2" width="4.4" height="4.4"/><rect x="472.8" y="1670.8" width="4.4" height="4.4"/><rect x="486.8" y="1659.4" width="4.4" height="4.4"/><rect x="501.2" y="1648.8" width="4.4" height="4.4"/><rect x="515.8" y="1639.2" width="4.4" height="4.4"/><rect x="529.8" y="1629.6" width="4.4" height="4.4"/><rect x="544" y="1622.1" width="4.4" height="4.4"/><rect x="557.8" y="1622.05" width="4.4" height="4.4"/><rect x="572.3" y="1621.05" width="4.4" height="4.4"/><rect x="586.55" y="1619.05" width="4.4" height="4.4"/><rect x="600.3" y="1617.05" width="4.4" height="4.4"/><rect x="614.8" y="1615.3" width="4.4" height="4.4"/><rect x="629.05" y="1612.3" width="4.4" height="4.4"/><rect x="643.3" y="1610.3" width="4.4" height="4.4"/><rect x="657.3" y="1606.55" width="4.4" height="4.4"/><rect x="672.05" y="1604.05" width="4.4" height="4.4"/><rect x="686.05" y="1605.8" width="4.4" height="4.4"/><rect x="700.3" y="1605.8" width="4.4" height="4.4"/><rect x="714.8" y="1604.8" width="4.4" height="4.4"/><rect x="728.3" y="1604.05" width="4.4" height="4.4"/><rect x="742.3" y="1602.3" width="4.4" height="4.4"/><rect x="756.55" y="1601.55" width="4.4" height="4.4"/><rect x="771.6" y="1603.2" width="4.4" height="4.4"/><rect x="786.1" y="1604.1" width="4.4" height="4.4"/><rect x="800.3" y="1603.6" width="4.4" height="4.4"/><rect x="814.2" y="1604.1" width="4.4" height="4.4"/><rect x="828.6" y="1606" width="4.4" height="4.4"/><rect x="842.5" y="1606" width="4.4" height="4.4"/><rect x="856.7" y="1607.2" width="4.4" height="4.4"/><rect x="871.1" y="1608.4" width="4.4" height="4.4"/><rect x="885" y="1608.4" width="4.4" height="4.4"/><rect x="899.4" y="1610.1" width="4.4" height="4.4"/><rect x="913.8" y="1610.8" width="4.4" height="4.4"/><rect x="928.2" y="1610.8" width="4.4" height="4.4"/><rect x="942.1" y="1613.9" width="4.4" height="4.4"/><rect x="956.3" y="1619.2" width="4.4" height="4.4"/><rect x="970.2" y="1617.5" width="4.4" height="4.4"/><rect x="984.6" y="1618.5" width="4.4" height="4.4"/><rect x="998.8" y="1621.8" width="4.4" height="4.4"/></g><polyline fill="none" stroke="#990000" stroke-width="1.0" stroke-linejoin="round" points="119.6,2247.6 133.6,2246.6 148,2246 162.4,2243.4 176.6,2238.4 191,2231.6 205,2220.4 219,2202.6 233.4,2179.6 247.4,2148.4 262.3,2112.3 275.8,2073.1 290.3,2028.4 304.4,1983.9 319.2,1940.8 332.5,1898 347.4,1861.5 361.5,1830 375.6,1798 389.6,1763.6 404,1737 418.6,1728.4 432,1713.6 446.6,1695.4 460.6,1681 475,1668 489.4,1660.6 503.6,1656.4 517.6,1648.4 531.8,1643.2 546.1,1641.4 560,1641.25 575,1638 588.75,1633.75 603,1632 617,1625.5 631.25,1630.5 645.5,1629.5 660,1626.25 674.25,1635.5 688.25,1629.5 702.5,1628 717,1635.75 730.75,1634.25 745,1631.25 759.5,1634.5 773.9,1644 788.3,1648.3 802.7,1649.7 816.9,1651.4 830.8,1652.1 844.7,1654.3 858.9,1656.7 873.3,1656.9 887.7,1656.9 902.1,1659.3 916,1661 930.4,1664.6 944.3,1667 958.5,1665.8 972.4,1670.1 986.8,1671.1 1001,1673.5"/><g fill="#7a0000"><polygon points="119.6,2244.1 122.93,2246.52 121.66,2250.43 117.54,2250.43 116.27,2246.52"/><polygon points="133.6,2243.1 136.93,2245.52 135.66,2249.43 131.54,2249.43 130.27,2245.52"/><polygon points="148,2242.5 151.33,2244.92 150.06,2248.83 145.94,2248.83 144.67,2244.92"/><polygon points="162.4,2239.9 165.73,2242.32 164.46,2246.23 160.34,2246.23 159.07,2242.32"/><polygon points="176.6,2234.9 179.93,2237.32 178.66,2241.23 174.54,2241.23 173.27,2237.32"/><polygon points="191,2228.1 194.33,2230.52 193.06,2234.43 188.94,2234.43 187.67,2230.52"/><polygon points="205,2216.9 208.33,2219.32 207.06,2223.23 202.94,2223.23 201.67,2219.32"/><polygon points="219,2199.1 222.33,2201.52 221.06,2205.43 216.94,2205.43 215.67,2201.52"/><polygon points="233.4,2176.1 236.73,2178.52 235.46,2182.43 231.34,2182.43 230.07,2178.52"/><polygon points="247.4,2144.9 250.73,2147.32 249.46,2151.23 245.34,2151.23 244.07,2147.32"/><polygon points="262.3,2108.8 265.63,2111.22 264.36,2115.13 260.24,2115.13 258.97,2111.22"/><polygon points="275.8,2069.6 279.13,2072.02 277.86,2075.93 273.74,2075.93 272.47,2072.02"/><polygon points="290.3,2024.9 293.63,2027.32 292.36,2031.23 288.24,2031.23 286.97,2027.32"/><polygon points="304.4,1980.4 307.73,1982.82 306.46,1986.73 302.34,1986.73 301.07,1982.82"/><polygon points="319.2,1937.3 322.53,1939.72 321.26,1943.63 317.14,1943.63 315.87,1939.72"/><polygon points="332.5,1894.5 335.83,1896.92 334.56,1900.83 330.44,1900.83 329.17,1896.92"/><polygon points="347.4,1858 350.73,1860.42 349.46,1864.33 345.34,1864.33 344.07,1860.42"/><polygon points="361.5,1826.5 364.83,1828.92 363.56,1832.83 359.44,1832.83 358.17,1828.92"/><polygon points="375.6,1794.5 378.93,1796.92 377.66,1800.83 373.54,1800.83 372.27,1796.92"/><polygon points="389.6,1760.1 392.93,1762.52 391.66,1766.43 387.54,1766.43 386.27,1762.52"/><polygon points="404,1733.5 407.33,1735.92 406.06,1739.83 401.94,1739.83 400.67,1735.92"/><polygon points="418.6,1724.9 421.93,1727.32 420.66,1731.23 416.54,1731.23 415.27,1727.32"/><polygon points="432,1710.1 435.33,1712.52 434.06,1716.43 429.94,1716.43 428.67,1712.52"/><polygon points="446.6,1691.9 449.93,1694.32 448.66,1698.23 444.54,1698.23 443.27,1694.32"/><polygon points="460.6,1677.5 463.93,1679.92 462.66,1683.83 458.54,1683.83 457.27,1679.92"/><polygon points="475,1664.5 478.33,1666.92 477.06,1670.83 472.94,1670.83 471.67,1666.92"/><polygon points="489.4,1657.1 492.73,1659.52 491.46,1663.43 487.34,1663.43 486.07,1659.52"/><polygon points="503.6,1652.9 506.93,1655.32 505.66,1659.23 501.54,1659.23 500.27,1655.32"/><polygon points="517.6,1644.9 520.93,1647.32 519.66,1651.23 515.54,1651.23 514.27,1647.32"/><polygon points="531.8,1639.7 535.13,1642.12 533.86,1646.03 529.74,1646.03 528.47,1642.12"/><polygon points="546.1,1637.9 549.43,1640.32 548.16,1644.23 544.04,1644.23 542.77,1640.32"/><polygon points="560,1637.75 563.33,1640.17 562.06,1644.08 557.94,1644.08 556.67,1640.17"/><polygon points="575,1634.5 578.33,1636.92 577.06,1640.83 572.94,1640.83 571.67,1636.92"/><polygon points="588.75,1630.25 592.08,1632.67 590.81,1636.58 586.69,1636.58 585.42,1632.67"/><polygon points="603,1628.5 606.33,1630.92 605.06,1634.83 600.94,1634.83 599.67,1630.92"/><polygon points="617,1622 620.33,1624.42 619.06,1628.33 614.94,1628.33 613.67,1624.42"/><polygon points="631.25,1627 634.58,1629.42 633.31,1633.33 629.19,1633.33 627.92,1629.42"/><polygon points="645.5,1626 648.83,1628.42 647.56,1632.33 643.44,1632.33 642.17,1628.42"/><polygon points="660,1622.75 663.33,1625.17 662.06,1629.08 657.94,1629.08 656.67,1625.17"/><polygon points="674.25,1632 677.58,1634.42 676.31,1638.33 672.19,1638.33 670.92,1634.42"/><polygon points="688.25,1626 691.58,1628.42 690.31,1632.33 686.19,1632.33 684.92,1628.42"/><polygon points="702.5,1624.5 705.83,1626.92 704.56,1630.83 700.44,1630.83 699.17,1626.92"/><polygon points="717,1632.25 720.33,1634.67 719.06,1638.58 714.94,1638.58 713.67,1634.67"/><polygon points="730.75,1630.75 734.08,1633.17 732.81,1637.08 728.69,1637.08 727.42,1633.17"/><polygon points="745,1627.75 748.33,1630.17 747.06,1634.08 742.94,1634.08 741.67,1630.17"/><polygon points="759.5,1631 762.83,1633.42 761.56,1637.33 757.44,1637.33 756.17,1633.42"/><polygon points="773.9,1640.5 777.23,1642.92 775.96,1646.83 771.84,1646.83 770.57,1642.92"/><polygon points="788.3,1644.8 791.63,1647.22 790.36,1651.13 786.24,1651.13 784.97,1647.22"/><polygon points="802.7,1646.2 806.03,1648.62 804.76,1652.53 800.64,1652.53 799.37,1648.62"/><polygon points="816.9,1647.9 820.23,1650.32 818.96,1654.23 814.84,1654.23 813.57,1650.32"/><polygon points="830.8,1648.6 834.13,1651.02 832.86,1654.93 828.74,1654.93 827.47,1651.02"/><polygon points="844.7,1650.8 848.03,1653.22 846.76,1657.13 842.64,1657.13 841.37,1653.22"/><polygon points="858.9,1653.2 862.23,1655.62 860.96,1659.53 856.84,1659.53 855.57,1655.62"/><polygon points="873.3,1653.4 876.63,1655.82 875.36,1659.73 871.24,1659.73 869.97,1655.82"/><polygon points="887.7,1653.4 891.03,1655.82 889.76,1659.73 885.64,1659.73 884.37,1655.82"/><polygon points="902.1,1655.8 905.43,1658.22 904.16,1662.13 900.04,1662.13 898.77,1658.22"/><polygon points="916,1657.5 919.33,1659.92 918.06,1663.83 913.94,1663.83 912.67,1659.92"/><polygon points="930.4,1661.1 933.73,1663.52 932.46,1667.43 928.34,1667.43 927.07,1663.52"/><polygon points="944.3,1663.5 947.63,1665.92 946.36,1669.83 942.24,1669.83 940.97,1665.92"/><polygon points="958.5,1662.3 961.83,1664.72 960.56,1668.63 956.44,1668.63 955.17,1664.72"/><polygon points="972.4,1666.6 975.73,1669.02 974.46,1672.93 970.34,1672.93 969.07,1669.02"/><polygon points="986.8,1667.6 990.13,1670.02 988.86,1673.93 984.74,1673.93 983.47,1670.02"/><polygon points="1001,1670 1004.33,1672.42 1003.06,1676.33 998.94,1676.33 997.67,1672.42"/></g></g>
<g stroke="#000" stroke-width="4.2" stroke-linecap="round"><line x1="994.9" y1="2249.3" x2="997.5" y2="2249.3" stroke-width="1.3" stroke-linecap="butt"/><line x1="118" y1="2202.44" x2="124.3" y2="2202.44"/><line x1="994.9" y1="2202.44" x2="997.5" y2="2202.44" stroke-width="1.3" stroke-linecap="butt"/><line x1="118" y1="2155.57" x2="130.6" y2="2155.57"/><line x1="994.9" y1="2155.57" x2="997.5" y2="2155.57" stroke-width="1.3" stroke-linecap="butt"/><line x1="118" y1="2108.71" x2="124.3" y2="2108.71"/><line x1="994.9" y1="2108.71" x2="997.5" y2="2108.71" stroke-width="1.3" stroke-linecap="butt"/><line x1="118" y1="2061.84" x2="130.6" y2="2061.84"/><line x1="994.9" y1="2061.84" x2="997.5" y2="2061.84" stroke-width="1.3" stroke-linecap="butt"/><line x1="118" y1="2014.98" x2="124.3" y2="2014.98"/><line x1="994.9" y1="2014.98" x2="997.5" y2="2014.98" stroke-width="1.3" stroke-linecap="butt"/><line x1="118" y1="1968.11" x2="130.6" y2="1968.11"/><line x1="994.9" y1="1968.11" x2="997.5" y2="1968.11" stroke-width="1.3" stroke-linecap="butt"/><line x1="118" y1="1921.25" x2="124.3" y2="1921.25"/><line x1="994.9" y1="1921.25" x2="997.5" y2="1921.25" stroke-width="1.3" stroke-linecap="butt"/><line x1="118" y1="1874.39" x2="130.6" y2="1874.39"/><line x1="994.9" y1="1874.39" x2="997.5" y2="1874.39" stroke-width="1.3" stroke-linecap="butt"/><line x1="118" y1="1827.52" x2="124.3" y2="1827.52"/><line x1="994.9" y1="1827.52" x2="997.5" y2="1827.52" stroke-width="1.3" stroke-linecap="butt"/><line x1="118" y1="1780.66" x2="130.6" y2="1780.66"/><line x1="994.9" y1="1780.66" x2="997.5" y2="1780.66" stroke-width="1.3" stroke-linecap="butt"/><line x1="118" y1="1733.79" x2="124.3" y2="1733.79"/><line x1="994.9" y1="1733.79" x2="997.5" y2="1733.79" stroke-width="1.3" stroke-linecap="butt"/><line x1="118" y1="1686.93" x2="130.6" y2="1686.93"/><line x1="994.9" y1="1686.93" x2="997.5" y2="1686.93" stroke-width="1.3" stroke-linecap="butt"/><line x1="118" y1="1640.06" x2="124.3" y2="1640.06"/><line x1="994.9" y1="1640.06" x2="997.5" y2="1640.06" stroke-width="1.3" stroke-linecap="butt"/><line x1="994.9" y1="1593.2" x2="997.5" y2="1593.2" stroke-width="1.3" stroke-linecap="butt"/><line x1="280.39" y1="2249.3" x2="280.39" y2="2242.7"/><line x1="442.78" y1="2249.3" x2="442.78" y2="2235.9"/><line x1="605.17" y1="2249.3" x2="605.17" y2="2242.7"/><line x1="767.56" y1="2249.3" x2="767.56" y2="2235.9"/><line x1="929.94" y1="2249.3" x2="929.94" y2="2242.7"/></g>
<rect x="118" y="1593.2" width="876.9" height="656.1" fill="none" stroke="#000" stroke-width="4.2" stroke-linejoin="round"/>
<g font-family="'Liberation Sans', Arial, sans-serif" font-size="24.5" font-weight="bold" fill="#000" stroke="#000" stroke-width="0.7" stroke-linejoin="round"><text x="104.6" y="2254.7" text-anchor="end">0</text><text x="104.6" y="2160.97" text-anchor="end">50</text><text x="104.6" y="2067.24" text-anchor="end">100</text><text x="104.6" y="1973.51" text-anchor="end">150</text><text x="104.6" y="1879.79" text-anchor="end">200</text><text x="104.6" y="1786.06" text-anchor="end">250</text><text x="104.6" y="1692.33" text-anchor="end">300</text><text x="104.6" y="1598.6" text-anchor="end">350</text><text x="117.5" y="2280.8" text-anchor="middle">-4</text><text x="442.28" y="2280.8" text-anchor="middle">-3</text><text x="767.06" y="2280.8" text-anchor="middle">-2</text></g>
<polygon fill="#ff0000" points="792.9,1602.5 799.32,1613.3 795.22,1613.3 795.28,1638.6 799.38,1638.6 793,1649.4 786.58,1638.6 790.68,1638.6 790.62,1613.3 786.52,1613.3"/>
<line x1="637" y1="2090.2" x2="708.1" y2="2090.2" stroke="#000" stroke-width="1.0"/>
<rect x="669.6" y="2088" width="4.4" height="4.4" fill="#000"/>
<line x1="637" y1="2129.4" x2="708.1" y2="2129.4" stroke="#990000" stroke-width="1.0"/>
<polygon points="671.8,2125.9 675.13,2128.32 673.86,2132.23 669.74,2132.23 668.47,2128.32" fill="#7a0000"/>
<text id="lab_a" x="0.53" y="28.03" font-family="'Liberation Serif', Arial, sans-serif" font-size="37.38" font-weight="normal" font-style="italic" fill="#000" textLength="51.74" lengthAdjust="spacingAndGlyphs">(a)</text>
<text id="yt_a" transform="translate(40.88 643.56) rotate(-90)" x="0" y="0" font-family="'Liberation Sans', Arial, sans-serif" font-size="44.61" font-weight="bold" font-style="normal" fill="#000" stroke="#000" stroke-width="0.7" stroke-linejoin="round" textLength="597.86" lengthAdjust="spacingAndGlyphs">Transcondutance Gm (mS/mm)</text>
<text id="xt_a1" x="297.99" y="769.46" font-family="'Liberation Sans', Arial, sans-serif" font-size="38.58" font-weight="bold" font-style="normal" fill="#000" stroke="#000" stroke-width="0.7" stroke-linejoin="round" textLength="419.62" lengthAdjust="spacingAndGlyphs">Gate-Source Voltage V</text>
<text id="xt_a2" x="715.28" y="781" font-family="'Liberation Sans', Arial, sans-serif" font-size="39.49" font-weight="bold" font-style="normal" fill="#000" stroke="#000" stroke-width="0.7" stroke-linejoin="round" textLength="57.29" lengthAdjust="spacingAndGlyphs">GS</text>
<text id="xt_a3" x="771.97" y="769.4" font-family="'Liberation Sans', Arial, sans-serif" font-size="30.47" font-weight="bold" font-style="normal" fill="#000" stroke="#000" stroke-width="0.7" stroke-linejoin="round" textLength="6.59" lengthAdjust="spacingAndGlyphs">(</text>
<text id="xt_a4" x="779.27" y="769.99" font-family="'Liberation Sans', Arial, sans-serif" font-size="42.15" font-weight="bold" font-style="normal" fill="#000" stroke="#000" stroke-width="0.7" stroke-linejoin="round" textLength="30.04" lengthAdjust="spacingAndGlyphs">V</text>
<text id="xt_a5" x="808.73" y="769.53" font-family="'Liberation Sans', Arial, sans-serif" font-size="30.47" font-weight="bold" font-style="normal" fill="#000" stroke="#000" stroke-width="0.7" stroke-linejoin="round" textLength="8.9" lengthAdjust="spacingAndGlyphs">)</text>
<text id="an_a1" x="157.67" y="105.67" font-family="'Liberation Sans', Arial, sans-serif" font-size="35.58" font-weight="bold" font-style="normal" fill="#000" stroke="#000" stroke-width="0.7" stroke-linejoin="round" textLength="285.09" lengthAdjust="spacingAndGlyphs">Y-Gate GaN on Si</text>
<text id="an_a2" x="190.24" y="149.78" font-family="'Liberation Sans', Arial, sans-serif" font-size="35.58" font-weight="bold" font-style="normal" fill="#000" stroke="#000" stroke-width="0.7" stroke-linejoin="round" textLength="21.32" lengthAdjust="spacingAndGlyphs">L</text>
<text id="an_a3" x="210.97" y="161.33" font-family="'Liberation Sans', Arial, sans-serif" font-size="21" font-weight="bold" font-style="normal" fill="#000" textLength="74.06" lengthAdjust="spacingAndGlyphs">Bottom</text>
<text id="an_a4" x="283.43" y="149.45" font-family="'Liberation Sans', Arial, sans-serif" font-size="35.58" font-weight="bold" font-style="normal" fill="#000" stroke="#000" stroke-width="0.7" stroke-linejoin="round" textLength="131.91" lengthAdjust="spacingAndGlyphs">=200nm</text>
<text id="an_a5" x="206.53" y="204.26" font-family="'Liberation Sans', Arial, sans-serif" font-size="35.58" font-weight="bold" font-style="normal" fill="#000" stroke="#000" stroke-width="0.7" stroke-linejoin="round" textLength="21.43" lengthAdjust="spacingAndGlyphs">L</text>
<text id="an_a6" x="228.37" y="217.67" font-family="'Liberation Sans', Arial, sans-serif" font-size="21" font-weight="bold" font-style="normal" fill="#000" textLength="38.75" lengthAdjust="spacingAndGlyphs">Top</text>
<text id="an_a7" x="265.98" y="204.35" font-family="'Liberation Sans', Arial, sans-serif" font-size="35.58" font-weight="bold" font-style="normal" fill="#000" stroke="#000" stroke-width="0.7" stroke-linejoin="round" textLength="133.07" lengthAdjust="spacingAndGlyphs">=500nm</text>
<text id="lg_a1" x="649.39" y="483.63" font-family="'Liberation Sans', Arial, sans-serif" font-size="34.49" font-weight="bold" font-style="normal" fill="#000" stroke="#000" stroke-width="0.7" stroke-linejoin="round" textLength="94.61" lengthAdjust="spacingAndGlyphs">HCI:V</text>
<text id="lg_a2" x="741.21" y="494.39" font-family="'Liberation Sans', Arial, sans-serif" font-size="31.88" font-weight="bold" font-style="normal" fill="#000" stroke="#000" stroke-width="0.7" stroke-linejoin="round" textLength="30.45" lengthAdjust="spacingAndGlyphs">G</text>
<text id="lg_a3" x="769.48" y="482.85" font-family="'Liberation Sans', Arial, sans-serif" font-size="34.49" font-weight="bold" font-style="normal" fill="#000" stroke="#000" stroke-width="0.7" stroke-linejoin="round" textLength="107.03" lengthAdjust="spacingAndGlyphs">=-2V,V</text>
<text id="lg_a4" x="875.29" y="496.2" font-family="'Liberation Sans', Arial, sans-serif" font-size="31.88" font-weight="bold" font-style="normal" fill="#000" stroke="#000" stroke-width="0.7" stroke-linejoin="round" textLength="27.26" lengthAdjust="spacingAndGlyphs">D</text>
<text id="lg_a5" x="900.32" y="483.43" font-family="'Liberation Sans', Arial, sans-serif" font-size="34.49" font-weight="bold" font-style="normal" fill="#000" stroke="#000" stroke-width="0.7" stroke-linejoin="round" textLength="63.32" lengthAdjust="spacingAndGlyphs">=4V</text>
<text id="lg_a6" x="736.39" y="536.45" font-family="'Liberation Sans', Arial, sans-serif" font-size="33.77" font-weight="bold" font-style="normal" fill="#000" stroke="#000" stroke-width="0.7" stroke-linejoin="round" textLength="78.12" lengthAdjust="spacingAndGlyphs">0sec</text>
<text id="lg_a7" x="736.44" y="580.46" font-family="'Liberation Sans', Arial, sans-serif" font-size="33.77" font-weight="bold" font-style="normal" fill="#000" stroke="#000" stroke-width="0.7" stroke-linejoin="round" textLength="135.85" lengthAdjust="spacingAndGlyphs">6000sec</text>
<text id="dg_a" x="684.14" y="269.55" font-family="'Liberation Sans', Arial, sans-serif" font-size="36.79" font-weight="normal" font-style="italic" fill="#ff0000" textLength="211.9" lengthAdjust="spacingAndGlyphs">ΔGm=51mS</text>
<text id="lab_b" x="0.54" y="814.42" font-family="'Liberation Sans', Arial, sans-serif" font-size="37.38" font-weight="normal" font-style="italic" fill="#000" textLength="54.72" lengthAdjust="spacingAndGlyphs">(b)</text>
<text id="yt_b" transform="translate(40.88 1427.92) rotate(-90)" x="0" y="0" font-family="'Liberation Sans', Arial, sans-serif" font-size="44.61" font-weight="bold" font-style="normal" fill="#000" stroke="#000" stroke-width="0.7" stroke-linejoin="round" textLength="597.51" lengthAdjust="spacingAndGlyphs">Transcondutance Gm (mS/mm)</text>
<text id="xt_b1" x="297.99" y="1554.69" font-family="'Liberation Sans', Arial, sans-serif" font-size="38.58" font-weight="bold" font-style="normal" fill="#000" stroke="#000" stroke-width="0.7" stroke-linejoin="round" textLength="419.62" lengthAdjust="spacingAndGlyphs">Gate-Source Voltage V</text>
<text id="xt_b2" x="715.28" y="1566.45" font-family="'Liberation Sans', Arial, sans-serif" font-size="39.49" font-weight="bold" font-style="normal" fill="#000" stroke="#000" stroke-width="0.7" stroke-linejoin="round" textLength="57.29" lengthAdjust="spacingAndGlyphs">GS</text>
<text id="xt_b3" x="771.97" y="1554.64" font-family="'Liberation Sans', Arial, sans-serif" font-size="30.47" font-weight="bold" font-style="normal" fill="#000" stroke="#000" stroke-width="0.7" stroke-linejoin="round" textLength="6.59" lengthAdjust="spacingAndGlyphs">(</text>
<text id="xt_b4" x="779.27" y="1555.41" font-family="'Liberation Sans', Arial, sans-serif" font-size="42.15" font-weight="bold" font-style="normal" fill="#000" stroke="#000" stroke-width="0.7" stroke-linejoin="round" textLength="30.04" lengthAdjust="spacingAndGlyphs">V</text>
<text id="xt_b5" x="808.73" y="1554.42" font-family="'Liberation Sans', Arial, sans-serif" font-size="30.47" font-weight="bold" font-style="normal" fill="#000" stroke="#000" stroke-width="0.7" stroke-linejoin="round" textLength="8.9" lengthAdjust="spacingAndGlyphs">)</text>
<text id="an_b1" x="153.72" y="885.69" font-family="'Liberation Sans', Arial, sans-serif" font-size="35.58" font-weight="bold" font-style="normal" fill="#000" stroke="#000" stroke-width="0.7" stroke-linejoin="round" textLength="283.9" lengthAdjust="spacingAndGlyphs">Y-Gate GaN on Si</text>
<text id="an_b2" x="186.05" y="929.12" font-family="'Liberation Sans', Arial, sans-serif" font-size="35.58" font-weight="bold" font-style="normal" fill="#000" stroke="#000" stroke-width="0.7" stroke-linejoin="round" textLength="21.17" lengthAdjust="spacingAndGlyphs">L</text>
<text id="an_b3" x="205.98" y="941.66" font-family="'Liberation Sans', Arial, sans-serif" font-size="21" font-weight="bold" font-style="normal" fill="#000" textLength="74.77" lengthAdjust="spacingAndGlyphs">Bottom</text>
<text id="an_b4" x="278.98" y="929.1" font-family="'Liberation Sans', Arial, sans-serif" font-size="35.58" font-weight="bold" font-style="normal" fill="#000" stroke="#000" stroke-width="0.7" stroke-linejoin="round" textLength="131.91" lengthAdjust="spacingAndGlyphs">=200nm</text>
<text id="an_b5" x="201.67" y="984.19" font-family="'Liberation Sans', Arial, sans-serif" font-size="35.58" font-weight="bold" font-style="normal" fill="#000" stroke="#000" stroke-width="0.7" stroke-linejoin="round" textLength="22.34" lengthAdjust="spacingAndGlyphs">L</text>
<text id="an_b6" x="224" y="998.06" font-family="'Liberation Sans', Arial, sans-serif" font-size="21" font-weight="bold" font-style="normal" fill="#000" textLength="38.55" lengthAdjust="spacingAndGlyphs">Top</text>
<text id="an_b7" x="262.02" y="984.44" font-family="'Liberation Sans', Arial, sans-serif" font-size="35.58" font-weight="bold" font-style="normal" fill="#000" stroke="#000" stroke-width="0.7" stroke-linejoin="round" textLength="132.03" lengthAdjust="spacingAndGlyphs">=760nm</text>
<text id="lg_b1" x="646.29" y="1250.47" font-family="'Liberation Sans', Arial, sans-serif" font-size="34.49" font-weight="bold" font-style="normal" fill="#000" stroke="#000" stroke-width="0.7" stroke-linejoin="round" textLength="94.48" lengthAdjust="spacingAndGlyphs">HCI:V</text>
<text id="lg_b2" x="737.33" y="1262.08" font-family="'Liberation Sans', Arial, sans-serif" font-size="31.88" font-weight="bold" font-style="normal" fill="#000" stroke="#000" stroke-width="0.7" stroke-linejoin="round" textLength="30.93" lengthAdjust="spacingAndGlyphs">G</text>
<text id="lg_b3" x="765.38" y="1250.48" font-family="'Liberation Sans', Arial, sans-serif" font-size="34.49" font-weight="bold" font-style="normal" fill="#000" stroke="#000" stroke-width="0.7" stroke-linejoin="round" textLength="108.22" lengthAdjust="spacingAndGlyphs">=-2V,V</text>
<text id="lg_b4" x="871.73" y="1263.55" font-family="'Liberation Sans', Arial, sans-serif" font-size="31.88" font-weight="bold" font-style="normal" fill="#000" stroke="#000" stroke-width="0.7" stroke-linejoin="round" textLength="27.87" lengthAdjust="spacingAndGlyphs">D</text>
<text id="lg_b5" x="897.76" y="1250.26" font-family="'Liberation Sans', Arial, sans-serif" font-size="34.49" font-weight="bold" font-style="normal" fill="#000" stroke="#000" stroke-width="0.7" stroke-linejoin="round" textLength="62.81" lengthAdjust="spacingAndGlyphs">=4V</text>
<text id="lg_b6" x="729.63" y="1308.61" font-family="'Liberation Sans', Arial, sans-serif" font-size="29.53" font-weight="bold" font-style="normal" fill="#000" stroke="#000" stroke-width="0.7" stroke-linejoin="round" textLength="66.36" lengthAdjust="spacingAndGlyphs">0sec</text>
<text id="lg_b7" x="729.64" y="1346.39" font-family="'Liberation Sans', Arial, sans-serif" font-size="29.53" font-weight="bold" font-style="normal" fill="#000" stroke="#000" stroke-width="0.7" stroke-linejoin="round" textLength="116.38" lengthAdjust="spacingAndGlyphs">6000sec</text>
<text id="dg_b" x="695.74" y="995.55" font-family="'Liberation Sans', Arial, sans-serif" font-size="36.79" font-weight="normal" font-style="italic" fill="#ff0000" textLength="211.35" lengthAdjust="spacingAndGlyphs">ΔGm=42mS</text>
<text id="lab_c" x="0.5" y="1600.37" font-family="'Liberation Sans', Arial, sans-serif" font-size="37.38" font-weight="normal" font-style="italic" fill="#000" textLength="50.36" lengthAdjust="spacingAndGlyphs">(c)</text>
<text id="yt_c" transform="translate(40.88 2213.18) rotate(-90)" x="0" y="0" font-family="'Liberation Sans', Arial, sans-serif" font-size="44.61" font-weight="bold" font-style="normal" fill="#000" stroke="#000" stroke-width="0.7" stroke-linejoin="round" textLength="597.26" lengthAdjust="spacingAndGlyphs">Transcondutance Gm (mS/mm)</text>
<text id="xt_c1" x="297.99" y="2344.06" font-family="'Liberation Sans', Arial, sans-serif" font-size="38.58" font-weight="bold" font-style="normal" fill="#000" stroke="#000" stroke-width="0.7" stroke-linejoin="round" textLength="419.62" lengthAdjust="spacingAndGlyphs">Gate-Source Voltage V</text>
<text id="xt_c2" x="715.28" y="2355.9" font-family="'Liberation Sans', Arial, sans-serif" font-size="39.49" font-weight="bold" font-style="normal" fill="#000" stroke="#000" stroke-width="0.7" stroke-linejoin="round" textLength="57.29" lengthAdjust="spacingAndGlyphs">GS</text>
<text id="xt_c3" x="772" y="2344.54" font-family="'Liberation Sans', Arial, sans-serif" font-size="30.47" font-weight="bold" font-style="normal" fill="#000" stroke="#000" stroke-width="0.7" stroke-linejoin="round" textLength="6.59" lengthAdjust="spacingAndGlyphs">(</text>
<text id="xt_c4" x="779.27" y="2344.49" font-family="'Liberation Sans', Arial, sans-serif" font-size="42.15" font-weight="bold" font-style="normal" fill="#000" stroke="#000" stroke-width="0.7" stroke-linejoin="round" textLength="30.04" lengthAdjust="spacingAndGlyphs">V</text>
<text id="xt_c5" x="808.73" y="2344.41" font-family="'Liberation Sans', Arial, sans-serif" font-size="30.47" font-weight="bold" font-style="normal" fill="#000" stroke="#000" stroke-width="0.7" stroke-linejoin="round" textLength="8.9" lengthAdjust="spacingAndGlyphs">)</text>
<text id="an_c1" x="136.66" y="1656.45" font-family="'Liberation Sans', Arial, sans-serif" font-size="35.58" font-weight="bold" font-style="normal" fill="#000" stroke="#000" stroke-width="0.7" stroke-linejoin="round" textLength="284.7" lengthAdjust="spacingAndGlyphs">Y-Gate GaN on Si</text>
<text id="an_c2" x="169.08" y="1700.12" font-family="'Liberation Sans', Arial, sans-serif" font-size="35.58" font-weight="bold" font-style="normal" fill="#000" stroke="#000" stroke-width="0.7" stroke-linejoin="round" textLength="20.87" lengthAdjust="spacingAndGlyphs">L</text>
<text id="an_c3" x="188.96" y="1712.45" font-family="'Liberation Sans', Arial, sans-serif" font-size="21" font-weight="bold" font-style="normal" fill="#000" textLength="73.79" lengthAdjust="spacingAndGlyphs">Bottom</text>
<text id="an_c4" x="260.44" y="1700.1" font-family="'Liberation Sans', Arial, sans-serif" font-size="35.58" font-weight="bold" font-style="normal" fill="#000" stroke="#000" stroke-width="0.7" stroke-linejoin="round" textLength="134.01" lengthAdjust="spacingAndGlyphs">=200nm</text>
<text id="an_c5" x="185.08" y="1755.19" font-family="'Liberation Sans', Arial, sans-serif" font-size="35.58" font-weight="bold" font-style="normal" fill="#000" stroke="#000" stroke-width="0.7" stroke-linejoin="round" textLength="20.87" lengthAdjust="spacingAndGlyphs">L</text>
<text id="an_c6" x="206.39" y="1769.55" font-family="'Liberation Sans', Arial, sans-serif" font-size="21" font-weight="bold" font-style="normal" fill="#000" textLength="37.97" lengthAdjust="spacingAndGlyphs">Top</text>
<text id="an_c7" x="243.09" y="1755.78" font-family="'Liberation Sans', Arial, sans-serif" font-size="35.58" font-weight="bold" font-style="normal" fill="#000" stroke="#000" stroke-width="0.7" stroke-linejoin="round" textLength="133.49" lengthAdjust="spacingAndGlyphs">=960nm</text>
<text id="lg_c1" x="639.48" y="2049.43" font-family="'Liberation Sans', Arial, sans-serif" font-size="34.49" font-weight="bold" font-style="normal" fill="#000" stroke="#000" stroke-width="0.7" stroke-linejoin="round" textLength="95.98" lengthAdjust="spacingAndGlyphs">HCI:V</text>
<text id="lg_c2" x="732.27" y="2061.7" font-family="'Liberation Sans', Arial, sans-serif" font-size="31.88" font-weight="bold" font-style="normal" fill="#000" stroke="#000" stroke-width="0.7" stroke-linejoin="round" textLength="29.99" lengthAdjust="spacingAndGlyphs">G</text>
<text id="lg_c3" x="760.45" y="2049.55" font-family="'Liberation Sans', Arial, sans-serif" font-size="34.49" font-weight="bold" font-style="normal" fill="#000" stroke="#000" stroke-width="0.7" stroke-linejoin="round" textLength="107.95" lengthAdjust="spacingAndGlyphs">=-2V,V</text>
<text id="lg_c4" x="865.75" y="2062.21" font-family="'Liberation Sans', Arial, sans-serif" font-size="31.88" font-weight="bold" font-style="normal" fill="#000" stroke="#000" stroke-width="0.7" stroke-linejoin="round" textLength="27.9" lengthAdjust="spacingAndGlyphs">D</text>
<text id="lg_c5" x="891.87" y="2049.68" font-family="'Liberation Sans', Arial, sans-serif" font-size="34.49" font-weight="bold" font-style="normal" fill="#000" stroke="#000" stroke-width="0.7" stroke-linejoin="round" textLength="61.77" lengthAdjust="spacingAndGlyphs">=4V</text>
<text id="lg_c6" x="716.75" y="2099.06" font-family="'Liberation Sans', Arial, sans-serif" font-size="29.46" font-weight="bold" font-style="normal" fill="#000" stroke="#000" stroke-width="0.7" stroke-linejoin="round" textLength="66.96" lengthAdjust="spacingAndGlyphs">0sec</text>
<text id="lg_c7" x="716.77" y="2138" font-family="'Liberation Sans', Arial, sans-serif" font-size="29.46" font-weight="bold" font-style="normal" fill="#000" stroke="#000" stroke-width="0.7" stroke-linejoin="round" textLength="117.2" lengthAdjust="spacingAndGlyphs">6000sec</text>
<text id="dg_c" x="704.65" y="1694.09" font-family="'Liberation Sans', Arial, sans-serif" font-size="36.79" font-weight="normal" font-style="italic" fill="#ff0000" textLength="211.78" lengthAdjust="spacingAndGlyphs">ΔGm=10mS</text>
</svg></body></html>
